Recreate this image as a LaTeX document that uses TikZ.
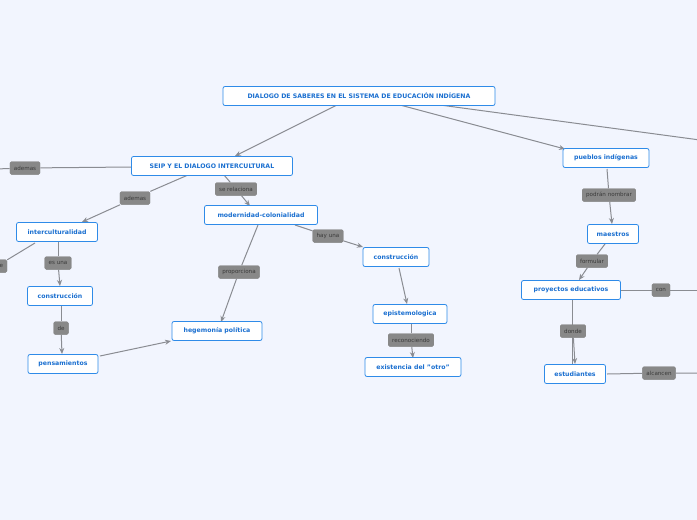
\documentclass[tikz,border=0pt]{standalone}
\usepackage{fontspec}
\setmainfont{DejaVu Sans}
\begin{document}
\begin{tikzpicture}[x=1pt,y=-1pt,
  box/.style={draw=bordc,fill=white,rounded corners=2pt,line width=0.8pt,text=txtc,font=\bfseries\fontsize{6.2}{7}\selectfont,minimum height=19pt,inner xsep=7pt},
  lab/.style={fill=labc,rounded corners=1.5pt,text=labt,font=\fontsize{5.6}{6}\selectfont,minimum height=13pt,inner xsep=4pt},
  con/.style={draw=linec,line width=1pt},
  arr/.style={con,-{Stealth[length=6pt,width=5pt]}}]
\definecolor{bg}{HTML}{F2F5FE}
\definecolor{bordc}{HTML}{2F8BE8}
\definecolor{txtc}{HTML}{1A6FD0}
\definecolor{labc}{HTML}{888888}
\definecolor{labt}{HTML}{3A3A3A}
\definecolor{linec}{HTML}{8A8C92}
\useasboundingbox (0,0) rectangle (697,520);
\clip (0,0) rectangle (697,520);
\fill[bg] (0,0) rectangle (697,520);
\usetikzlibrary{arrows.meta}
% label nodes
\node[lab] (l1) at (25,168) {ademas};
\node[lab] (l2) at (135,198) {ademas};
\node[lab] (l3) at (236,189) {se relaciona};
\node[lab] (l4) at (328,236) {hay una};
\node[lab] (l5) at (239,272) {proporciona};
\node[lab] (l6) at (58,263) {es una};
\node[lab,minimum width=20pt,text width=12pt,align=right] (l7) at (-3,266) {e};
\node[lab] (l8) at (61,328) {de};
\node[lab] (l9) at (411,340) {reconociendo};
\node[lab] (l10) at (609,195) {podrán nombrar};
\node[lab] (l11) at (592,261) {formular};
\node[lab] (l12) at (661,290) {con};
\node[lab] (l13) at (659,373) {alcancen};
\coordinate (o1) at (700,140);
\coordinate (o2) at (700,290);
\coordinate (o3) at (700,373);
\coordinate (o4) at (-5,169);
\coordinate (o5) at (-10,264);
% edges (drawn before boxes)
\draw[arr] (337,105) -- (235,156);
\draw[arr] (400,105) -- (565,149);
\draw[con] (440,105) -- (o1);
\draw[con] (132,167) -- (l1) -- (o4);
\draw[con] (188,175) -- (l2);
\draw[arr] (l2) -- (82,222);
\draw[con] (224,175) -- (l3);
\draw[arr] (l3) -- (250,206);
\draw[con] (295,225) -- (l4);
\draw[arr] (l4) -- (363,247);
\draw[con] (258,225) -- (l5);
\draw[arr] (l5) -- (221,322);
\draw[con] (35,243) -- (l7);
\draw[con] (58,242) -- (l6);
\draw[arr] (l6) -- (60,286);
\draw[con] (61,306) -- (l8);
\draw[arr] (l8) -- (62,354);
\draw[arr] (100,356) -- (171,341);
\draw[arr] (399,268) -- (407,304);
\draw[con] (411,324) -- (l9);
\draw[arr] (l9) -- (413,358);
\draw[con] (607,169) -- (l10);
\draw[arr] (l10) -- (612,224);
\draw[con] (605,244) -- (l11);
\draw[arr] (l11) -- (579,280);
\draw[con] (620,290) -- (l12) -- (o2);
\draw[con] (572,300) -- (l13 -| 572,330);
\node[lab] (l14) at (573,331) {donde};
\draw[arr] (l14) -- (575,364);
\draw[con] (607,374) -- (l13) -- (o3);
% redraw labels on top
\node[lab] at (25,168) {ademas};
\node[lab] at (135,198) {ademas};
\node[lab] at (236,189) {se relaciona};
\node[lab] at (328,236) {hay una};
\node[lab] at (239,272) {proporciona};
\node[lab] at (58,263) {es una};
\node[lab,minimum width=20pt,text width=12pt,align=right] at (-3,266) {e};
\node[lab] at (61,328) {de};
\node[lab] at (411,340) {reconociendo};
\node[lab] at (609,195) {podrán nombrar};
\node[lab] at (592,261) {formular};
\node[lab] at (661,290) {con};
\node[lab] at (659,373) {alcancen};
\node[lab] at (573,331) {donde};
% concept boxes
\node[box,minimum width=272pt] (top) at (359,96) {DIALOGO DE SABERES EN EL SISTEMA DE EDUCACIÓN INDÍGENA};
\node[box,minimum width=161pt] (seip) at (212,166) {SEIP Y EL DIALOGO INTERCULTURAL};
\node[box,minimum width=86pt] (pue) at (606,158) {pueblos indígenas};
\node[box,minimum width=81pt] (int) at (57,232) {interculturalidad};
\node[box,minimum width=113pt] (mod) at (261,215) {modernidad-colonialidad};
\node[box,minimum width=65pt] (c1) at (60,296) {construcción};
\node[box,minimum width=70pt] (pen) at (63,364) {pensamientos};
\node[box,minimum width=90pt] (heg) at (217,331) {hegemonía política};
\node[box,minimum width=66pt] (c2) at (396,257) {construcción};
\node[box,minimum width=74pt] (epi) at (410,314) {epistemologica};
\node[box,minimum width=96pt] (exi) at (413,367) {existencia del "otro"};
\node[box,minimum width=51pt] (mae) at (613,234) {maestros};
\node[box,minimum width=99pt] (pro) at (571,290) {proyectos educativos};
\node[box,minimum width=61pt] (est) at (575,374) {estudiantes};
\end{tikzpicture}
\end{document}
